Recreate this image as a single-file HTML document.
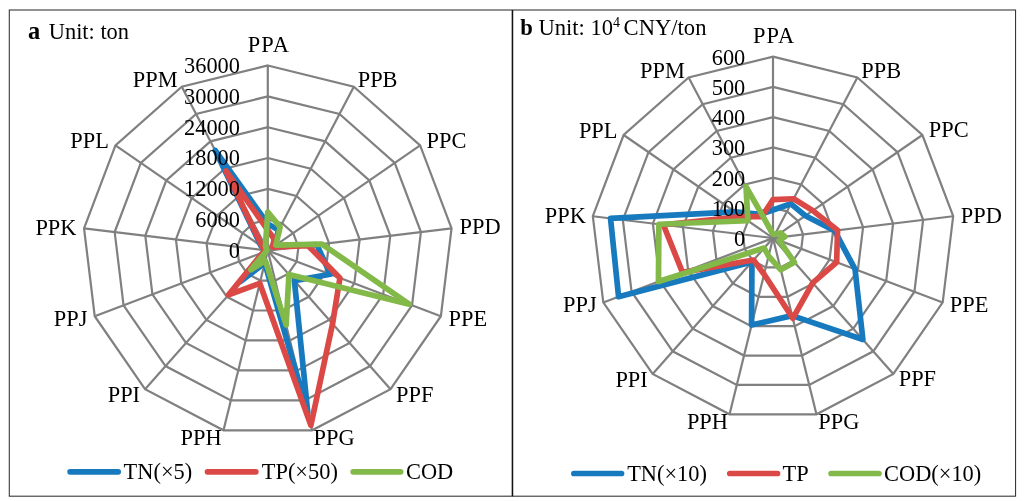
<!DOCTYPE html>
<html><head><meta charset="utf-8"><title>Radar charts</title>
<style>
html,body{margin:0;padding:0;background:#fff;}
svg{display:block;}
text{font-family:"Liberation Serif",serif;font-size:22.4px;fill:#000;}
</style></head><body>
<svg width="1024" height="501" viewBox="0 0 1024 501">
<rect x="0" y="0" width="1024" height="501" fill="#fff"/>
<rect x="9.3" y="10" width="1006.25" height="486.2" fill="none" stroke="#383838" stroke-width="1.1"/>
<line x1="512.45" y1="10" x2="512.45" y2="496.2" stroke="#111" stroke-width="1.55"/>
<polygon points="267.80,219.75 282.14,223.28 293.19,233.08 298.43,246.88 296.65,261.54 288.26,273.69 275.18,280.55 260.42,280.55 247.34,273.69 238.95,261.54 237.17,246.88 242.41,233.08 253.46,223.28" fill="none" stroke="#808080" stroke-width="2.2" stroke-linejoin="miter"/>
<polygon points="267.80,188.90 296.47,195.97 318.58,215.55 329.05,243.16 325.49,272.48 308.71,296.78 282.57,310.51 253.03,310.51 226.89,296.78 210.11,272.48 206.55,243.16 217.02,215.55 239.13,195.97" fill="none" stroke="#808080" stroke-width="2.2" stroke-linejoin="miter"/>
<polygon points="267.80,158.05 310.81,168.65 343.97,198.03 359.68,239.44 354.34,283.42 329.17,319.87 289.95,340.46 245.65,340.46 206.43,319.87 181.26,283.42 175.92,239.44 191.63,198.03 224.79,168.65" fill="none" stroke="#808080" stroke-width="2.2" stroke-linejoin="miter"/>
<polygon points="267.80,127.20 325.15,141.33 369.36,180.50 390.30,235.73 383.18,294.36 349.63,342.97 297.33,370.41 238.27,370.41 185.97,342.97 152.42,294.36 145.30,235.73 166.24,180.50 210.45,141.33" fill="none" stroke="#808080" stroke-width="2.2" stroke-linejoin="miter"/>
<polygon points="267.80,96.35 339.48,114.02 394.75,162.98 420.93,232.01 412.03,305.30 370.09,366.06 304.71,400.37 230.89,400.37 165.51,366.06 123.57,305.30 114.67,232.01 140.85,162.98 196.12,114.02" fill="none" stroke="#808080" stroke-width="2.2" stroke-linejoin="miter"/>
<polygon points="267.80,65.50 353.82,86.70 420.13,145.45 451.55,228.29 440.87,316.24 390.54,389.15 312.10,430.32 223.50,430.32 145.06,389.15 94.73,316.24 84.05,228.29 115.47,145.45 181.78,86.70" fill="none" stroke="#808080" stroke-width="2.2" stroke-linejoin="miter"/>
<line x1="267.80" y1="250.60" x2="267.80" y2="65.50" stroke="#808080" stroke-width="2.2"/>
<line x1="267.80" y1="250.60" x2="353.82" y2="86.70" stroke="#808080" stroke-width="2.2"/>
<line x1="267.80" y1="250.60" x2="420.13" y2="145.45" stroke="#808080" stroke-width="2.2"/>
<line x1="267.80" y1="250.60" x2="451.55" y2="228.29" stroke="#808080" stroke-width="2.2"/>
<line x1="267.80" y1="250.60" x2="440.87" y2="316.24" stroke="#808080" stroke-width="2.2"/>
<line x1="267.80" y1="250.60" x2="390.54" y2="389.15" stroke="#808080" stroke-width="2.2"/>
<line x1="267.80" y1="250.60" x2="312.10" y2="430.32" stroke="#808080" stroke-width="2.2"/>
<line x1="267.80" y1="250.60" x2="223.50" y2="430.32" stroke="#808080" stroke-width="2.2"/>
<line x1="267.80" y1="250.60" x2="145.06" y2="389.15" stroke="#808080" stroke-width="2.2"/>
<line x1="267.80" y1="250.60" x2="94.73" y2="316.24" stroke="#808080" stroke-width="2.2"/>
<line x1="267.80" y1="250.60" x2="84.05" y2="228.29" stroke="#808080" stroke-width="2.2"/>
<line x1="267.80" y1="250.60" x2="115.47" y2="145.45" stroke="#808080" stroke-width="2.2"/>
<line x1="267.80" y1="250.60" x2="181.78" y2="86.70" stroke="#808080" stroke-width="2.2"/>
<polygon points="267.80,223.86 278.55,230.11 274.15,246.22 316.80,244.65 330.30,274.30 294.39,280.62 307.79,412.85 264.72,263.08 240.52,281.39 263.95,252.06 265.25,250.29 261.03,245.93 215.23,150.44" fill="none" stroke="#1779be" stroke-width="5.7" stroke-linejoin="round"/>
<polygon points="267.80,230.03 274.01,238.76 272.88,247.10 308.12,245.70 339.91,277.95 332.58,323.72 310.87,425.33 259.74,283.30 228.59,294.86 262.99,252.42 265.25,250.29 262.30,246.80 225.98,170.93" fill="none" stroke="#da4946" stroke-width="5.7" stroke-linejoin="round"/>
<polygon points="267.80,212.04 280.11,227.15 275.84,245.05 321.90,244.03 409.14,304.20 288.94,274.46 286.13,324.98 265.34,260.58 250.75,269.84 266.36,251.15 266.78,250.48 266.53,249.72 265.41,246.05" fill="none" stroke="#83b949" stroke-width="5.7" stroke-linejoin="round"/>
<text transform="translate(240 258.00) scale(1 1.045)" text-anchor="end">0</text>
<text transform="translate(240 227.15) scale(1 1.045)" text-anchor="end">6000</text>
<text transform="translate(240 196.30) scale(1 1.045)" text-anchor="end">12000</text>
<text transform="translate(240 165.45) scale(1 1.045)" text-anchor="end">18000</text>
<text transform="translate(240 134.60) scale(1 1.045)" text-anchor="end">24000</text>
<text transform="translate(240 103.75) scale(1 1.045)" text-anchor="end">30000</text>
<text transform="translate(240 72.90) scale(1 1.045)" text-anchor="end">36000</text>
<text transform="translate(247.8 52.0) scale(1 1.045)" letter-spacing="1">PPA</text>
<text transform="translate(357.7 86.8) scale(1 1.045)">PPB</text>
<text transform="translate(426.6 148.3) scale(1 1.045)">PPC</text>
<text transform="translate(459.5 234.2) scale(1 1.045)">PPD</text>
<text transform="translate(448.5 325.8) scale(1 1.045)">PPE</text>
<text transform="translate(396.1 402.1) scale(1 1.045)">PPF</text>
<text transform="translate(313.6 444.5) scale(1 1.045)">PPG</text>
<text transform="translate(180.5 444.9) scale(1 1.045)">PPH</text>
<text transform="translate(107.7 402.1) scale(1 1.045)">PPI</text>
<text transform="translate(53.8 325.8) scale(1 1.045)">PPJ</text>
<text transform="translate(35.4 235.0) scale(1 1.045)">PPK</text>
<text transform="translate(70.3 148.4) scale(1 1.045)">PPL</text>
<text transform="translate(132.8 86.8) scale(1 1.045)">PPM</text>
<polygon points="773.00,207.85 787.06,211.31 797.90,220.92 803.03,234.45 801.28,248.83 793.06,260.74 780.24,267.47 765.76,267.47 752.94,260.74 744.72,248.83 742.97,234.45 748.10,220.92 758.94,211.31" fill="none" stroke="#808080" stroke-width="2.2" stroke-linejoin="miter"/>
<polygon points="773.00,177.60 801.12,184.53 822.79,203.73 833.06,230.81 829.57,259.55 813.12,283.38 787.48,296.84 758.52,296.84 732.88,283.38 716.43,259.55 712.94,230.81 723.21,203.73 744.88,184.53" fill="none" stroke="#808080" stroke-width="2.2" stroke-linejoin="miter"/>
<polygon points="773.00,147.35 815.17,157.74 847.69,186.55 863.09,227.16 857.85,270.28 833.18,306.03 794.72,326.21 751.28,326.21 712.82,306.03 688.15,270.28 682.91,227.16 698.31,186.55 730.83,157.74" fill="none" stroke="#808080" stroke-width="2.2" stroke-linejoin="miter"/>
<polygon points="773.00,117.10 829.23,130.96 872.58,169.36 893.12,223.52 886.14,281.01 853.24,328.67 801.96,355.58 744.04,355.58 692.76,328.67 659.86,281.01 652.88,223.52 673.42,169.36 716.77,130.96" fill="none" stroke="#808080" stroke-width="2.2" stroke-linejoin="miter"/>
<polygon points="773.00,86.85 843.29,104.17 897.48,152.18 923.15,219.87 914.42,291.73 873.30,351.31 809.20,384.95 736.80,384.95 672.70,351.31 631.58,291.73 622.85,219.87 648.52,152.18 702.71,104.17" fill="none" stroke="#808080" stroke-width="2.2" stroke-linejoin="miter"/>
<polygon points="773.00,56.60 857.35,77.39 922.37,135.00 953.18,216.22 942.71,302.46 893.36,373.95 816.44,414.33 729.56,414.33 652.64,373.95 603.29,302.46 592.82,216.22 623.63,135.00 688.65,77.39" fill="none" stroke="#808080" stroke-width="2.2" stroke-linejoin="miter"/>
<line x1="773.00" y1="238.10" x2="773.00" y2="56.60" stroke="#808080" stroke-width="2.2"/>
<line x1="773.00" y1="238.10" x2="857.35" y2="77.39" stroke="#808080" stroke-width="2.2"/>
<line x1="773.00" y1="238.10" x2="922.37" y2="135.00" stroke="#808080" stroke-width="2.2"/>
<line x1="773.00" y1="238.10" x2="953.18" y2="216.22" stroke="#808080" stroke-width="2.2"/>
<line x1="773.00" y1="238.10" x2="942.71" y2="302.46" stroke="#808080" stroke-width="2.2"/>
<line x1="773.00" y1="238.10" x2="893.36" y2="373.95" stroke="#808080" stroke-width="2.2"/>
<line x1="773.00" y1="238.10" x2="816.44" y2="414.33" stroke="#808080" stroke-width="2.2"/>
<line x1="773.00" y1="238.10" x2="729.56" y2="414.33" stroke="#808080" stroke-width="2.2"/>
<line x1="773.00" y1="238.10" x2="652.64" y2="373.95" stroke="#808080" stroke-width="2.2"/>
<line x1="773.00" y1="238.10" x2="603.29" y2="302.46" stroke="#808080" stroke-width="2.2"/>
<line x1="773.00" y1="238.10" x2="592.82" y2="216.22" stroke="#808080" stroke-width="2.2"/>
<line x1="773.00" y1="238.10" x2="623.63" y2="135.00" stroke="#808080" stroke-width="2.2"/>
<line x1="773.00" y1="238.10" x2="688.65" y2="77.39" stroke="#808080" stroke-width="2.2"/>
<polygon points="773.00,209.97 790.99,203.82 805.36,215.76 834.56,230.63 855.02,269.21 862.87,339.54 792.11,315.64 751.57,325.04 751.94,261.87 618.57,296.67 610.54,218.37 734.91,211.81 760.49,214.26" fill="none" stroke="#1779be" stroke-width="5.7" stroke-linejoin="round"/>
<polygon points="773.00,199.68 793.67,198.73 812.83,210.61 837.56,230.26 836.64,262.24 812.72,282.93 792.76,318.28 764.10,274.23 753.54,260.06 682.49,272.43 663.39,224.79 741.88,216.62 761.75,216.67" fill="none" stroke="#da4946" stroke-width="5.7" stroke-linejoin="round"/>
<polygon points="773.00,234.17 774.97,234.35 780.47,232.94 785.01,236.64 779.22,240.46 794.46,262.33 780.82,269.82 768.58,256.02 764.17,248.06 658.45,281.54 658.89,224.24 747.86,220.74 746.01,186.67" fill="none" stroke="#83b949" stroke-width="5.7" stroke-linejoin="round"/>
<text transform="translate(745.3 246.10) scale(1 1.045)" text-anchor="end">0</text>
<text transform="translate(745.3 215.85) scale(1 1.045)" text-anchor="end">100</text>
<text transform="translate(745.3 185.60) scale(1 1.045)" text-anchor="end">200</text>
<text transform="translate(745.3 155.35) scale(1 1.045)" text-anchor="end">300</text>
<text transform="translate(745.3 125.10) scale(1 1.045)" text-anchor="end">400</text>
<text transform="translate(745.3 94.85) scale(1 1.045)" text-anchor="end">500</text>
<text transform="translate(745.3 64.60) scale(1 1.045)" text-anchor="end">600</text>
<text transform="translate(753.1 43.4) scale(1 1.045)" letter-spacing="1">PPA</text>
<text transform="translate(861.3 78.3) scale(1 1.045)">PPB</text>
<text transform="translate(928.8 137.3) scale(1 1.045)">PPC</text>
<text transform="translate(960.8 222.7) scale(1 1.045)">PPD</text>
<text transform="translate(949.8 311.7) scale(1 1.045)">PPE</text>
<text transform="translate(898.7 386.4) scale(1 1.045)">PPF</text>
<text transform="translate(818.3 428.7) scale(1 1.045)">PPG</text>
<text transform="translate(686.9 429.1) scale(1 1.045)">PPH</text>
<text transform="translate(615.4 386.6) scale(1 1.045)">PPI</text>
<text transform="translate(563.1 312.4) scale(1 1.045)">PPJ</text>
<text transform="translate(544.8 222.9) scale(1 1.045)">PPK</text>
<text transform="translate(578.9 137.8) scale(1 1.045)">PPL</text>
<text transform="translate(640.1 78.2) scale(1 1.045)">PPM</text>
<line x1="70.1" y1="471.8" x2="118.2" y2="471.8" stroke="#1779be" stroke-width="5.7" stroke-linecap="round"/>
<text transform="translate(123.6 478.8) scale(1 1.045)">TN(×5)</text>
<line x1="207.5" y1="471.8" x2="255.8" y2="471.8" stroke="#da4946" stroke-width="5.7" stroke-linecap="round"/>
<text transform="translate(261.8 478.8) scale(1 1.045)">TP(×50)</text>
<line x1="353.2" y1="471.8" x2="400.6" y2="471.8" stroke="#83b949" stroke-width="5.7" stroke-linecap="round"/>
<text transform="translate(406.0 478.8) scale(1 1.045)">COD</text>
<line x1="573.9" y1="473.5" x2="621.5" y2="473.5" stroke="#1779be" stroke-width="5.7" stroke-linecap="round"/>
<text transform="translate(627.2 480.5) scale(1 1.045)">TN(×10)</text>
<line x1="729.8" y1="473.5" x2="777.5" y2="473.5" stroke="#da4946" stroke-width="5.7" stroke-linecap="round"/>
<text transform="translate(782.5 480.5) scale(1 1.045)">TP</text>
<line x1="831.1" y1="473.5" x2="878.9" y2="473.5" stroke="#83b949" stroke-width="5.7" stroke-linecap="round"/>
<text transform="translate(884.1 480.5) scale(1 1.045)">COD(×10)</text>
<text transform="translate(28.0 38.6) scale(1 1.045)"><tspan font-weight="bold" style="font-size:24.5px">a</tspan> <tspan x="20.8">Unit: ton</tspan></text>
<text transform="translate(520.2 35) scale(1 1.045)" style="font-size:22.6px"><tspan font-weight="bold">b</tspan> Unit: 10<tspan font-size="14px" dy="-7.5">4 </tspan><tspan dy="7.5">CNY/ton</tspan></text>
</svg>
</body></html>
